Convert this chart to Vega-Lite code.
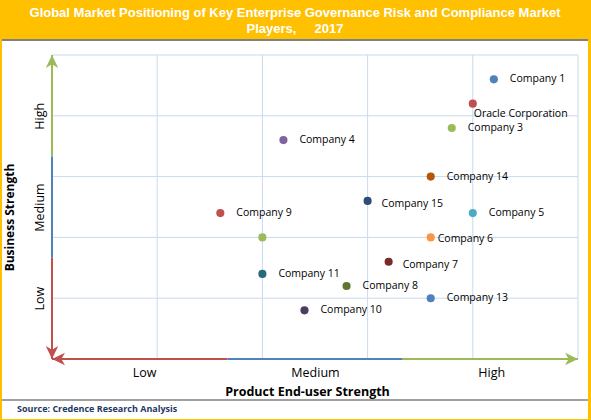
{
  "$schema": "https://vega.github.io/schema/vega-lite/v6.json",
  "width": 586,
  "height": 379,
  "autosize": {"type": "none"},
  "padding": {"left": 2, "top": 40, "right": 3, "bottom": 1},
  "background": "#FFC000",
  "title": {
    "text": ["Global Market Positioning of Key Enterprise Governance Risk and Compliance Market", "Players,\u00a0\u00a0\u00a0\u00a0 2017"],
    "color": "white",
    "font": "Liberation Sans",
    "fontSize": 13,
    "fontWeight": "bold",
    "anchor": "middle",
    "frame": "group",
    "offset": 3,
    "lineHeight": 16
  },
  "config": {
    "view": {"stroke": null, "fill": "white"},
    "font": "Open Sans"
  },
  "datasets": {
    "companies": [
      {"company": "Company 1", "product": 4.2, "business": 4.6},
      {"company": "Oracle Corporation", "product": 4.0, "business": 4.2},
      {"company": "Company 3", "product": 3.8, "business": 3.8},
      {"company": "Company 4", "product": 2.2, "business": 3.6},
      {"company": "Company 14", "product": 3.6, "business": 3.0},
      {"company": "Company 15", "product": 3.0, "business": 2.6},
      {"company": "Company 5", "product": 4.0, "business": 2.4},
      {"company": "Company 9", "product": 1.6, "business": 2.4},
      {"company": "Company 12", "product": 2.0, "business": 2.0},
      {"company": "Company 6", "product": 3.6, "business": 2.0},
      {"company": "Company 7", "product": 3.2, "business": 1.6},
      {"company": "Company 11", "product": 2.0, "business": 1.4},
      {"company": "Company 8", "product": 2.8, "business": 1.2},
      {"company": "Company 13", "product": 3.6, "business": 1.0},
      {"company": "Company 10", "product": 2.4, "business": 0.8}
    ],
    "grid": [{"v": 1}, {"v": 2}, {"v": 3}, {"v": 4}, {"v": 5}],
    "levels": [
      {"level": "Low", "start": 0, "end": 1.6667},
      {"level": "Medium", "start": 1.6667, "end": 3.3333},
      {"level": "High", "start": 3.3333, "end": 5}
    ],
    "source": [{"text": "Source: Credence Research Analysis"}]
  },
  "layer": [
    {
      "data": {"name": "grid"},
      "mark": {"type": "rule", "color": "#C9DAEE", "strokeWidth": 1},
      "encoding": {
        "x": {"field": "v", "type": "quantitative"},
        "y": {"datum": 0, "type": "quantitative"},
        "y2": {"datum": 5}
      }
    },
    {
      "data": {"name": "grid"},
      "mark": {"type": "rule", "color": "#C9DAEE", "strokeWidth": 1},
      "encoding": {
        "y": {"field": "v", "type": "quantitative"},
        "x": {"datum": 0, "type": "quantitative"},
        "x2": {"datum": 5}
      }
    },
    {
      "data": {"values": [{}]},
      "mark": {"type": "rule", "color": "#808080", "strokeWidth": 2},
      "encoding": {"y": {"datum": 5.2467, "type": "quantitative"}}
    },
    {
      "data": {"values": [{}]},
      "mark": {"type": "rule", "color": "#808080", "strokeWidth": 1.5},
      "encoding": {"y": {"datum": -0.6743, "type": "quantitative"}}
    },
    {
      "data": {"name": "levels"},
      "mark": {"type": "rule", "strokeWidth": 2},
      "encoding": {
        "x": {"field": "start", "type": "quantitative"},
        "x2": {"field": "end"},
        "y": {"datum": 0, "type": "quantitative"},
        "color": {"field": "level", "type": "nominal", "legend": null}
      }
    },
    {
      "data": {"name": "levels"},
      "mark": {"type": "rule", "strokeWidth": 2},
      "encoding": {
        "y": {"field": "start", "type": "quantitative"},
        "y2": {"field": "end"},
        "x": {"datum": 0, "type": "quantitative"},
        "color": {"field": "level", "type": "nominal", "legend": null}
      }
    },
    {
      "data": {"name": "levels"},
      "transform": [{"filter": "datum.level == 'High'"}],
      "mark": {"type": "point", "filled": true, "opacity": 1, "size": 676, "angle": 0, "shape": "M0,0 L0.48,1 L0,0.72 L-0.48,1 Z"},
      "encoding": {
        "y": {"field": "end", "type": "quantitative"},
        "x": {"datum": 0, "type": "quantitative"},
        "color": {"field": "level", "type": "nominal", "legend": null}
      }
    },
    {
      "data": {"name": "levels"},
      "transform": [{"filter": "datum.level == 'High'"}],
      "mark": {"type": "point", "filled": true, "opacity": 1, "size": 676, "angle": 90, "shape": "M0,0 L0.48,1 L0,0.72 L-0.48,1 Z"},
      "encoding": {
        "x": {"field": "end", "type": "quantitative"},
        "y": {"datum": 0, "type": "quantitative"},
        "color": {"field": "level", "type": "nominal", "legend": null}
      }
    },
    {
      "data": {"name": "levels"},
      "transform": [{"filter": "datum.level == 'Low'"}],
      "mark": {"type": "point", "filled": true, "opacity": 1, "size": 676, "angle": 180, "shape": "M0,0 L0.48,1 L0,0.72 L-0.48,1 Z"},
      "encoding": {
        "y": {"field": "start", "type": "quantitative"},
        "x": {"datum": 0, "type": "quantitative"},
        "color": {"field": "level", "type": "nominal", "legend": null}
      }
    },
    {
      "data": {"name": "levels"},
      "transform": [{"filter": "datum.level == 'Low'"}],
      "mark": {"type": "point", "filled": true, "opacity": 1, "size": 676, "angle": 270, "shape": "M0,0 L0.48,1 L0,0.72 L-0.48,1 Z"},
      "encoding": {
        "x": {"field": "start", "type": "quantitative"},
        "y": {"datum": 0, "type": "quantitative"},
        "color": {"field": "level", "type": "nominal", "legend": null}
      }
    },
    {
      "data": {"name": "companies"},
      "mark": {"type": "circle", "size": 66, "opacity": 1},
      "encoding": {
        "x": {
          "field": "product",
          "type": "quantitative",
          "scale": {"domain": [-0.4753, 5.0951], "nice": false, "zero": false},
          "axis": {
            "orient": "bottom",
            "offset": -60,
            "domain": false,
            "ticks": false,
            "grid": false,
            "values": [0.875, 2.5, 4.175],
            "labelExpr": "datum.value < 1.5 ? 'Low' : datum.value < 3.5 ? 'Medium' : 'High'",
            "labelFont": "Open Sans",
            "labelFontSize": 12.5,
            "labelColor": "#000000",
            "labelPadding": 7,
            "title": "Product End-user Strength",
            "titleFont": "Open Sans",
            "titleFontSize": 12.5,
            "titleFontWeight": "bold",
            "titleColor": "#000000",
            "titlePadding": 7,
            "titleX": 305
          }
        },
        "y": {
          "field": "business",
          "type": "quantitative",
          "scale": {"domain": [-0.9868, 5.2467], "nice": false, "zero": false},
          "axis": {
            "orient": "left",
            "offset": -50,
            "domain": false,
            "ticks": false,
            "grid": false,
            "values": [1, 2.5, 4],
            "labelExpr": "datum.value < 1.5 ? 'Low' : datum.value < 3.5 ? 'Medium' : 'High'",
            "labelAngle": -90,
            "labelFont": "Open Sans",
            "labelFontSize": 12.5,
            "labelColor": "#000000",
            "labelPadding": 6,
            "title": "Business Strength",
            "titleFont": "Open Sans",
            "titleFontSize": 12,
            "titleFontWeight": "bold",
            "titleColor": "#000000",
            "titleX": -43,
            "titleY": 177,
            "titleBaseline": "middle"
          }
        },
        "color": {
          "field": "company",
          "type": "nominal",
          "legend": null,
          "scale": {
            "domain": ["Company 1", "Oracle Corporation", "Company 3", "Company 4", "Company 5", "Company 6", "Company 7", "Company 8", "Company 9", "Company 10", "Company 11", "Company 12", "Company 13", "Company 14", "Company 15", "Low", "Medium", "High"],
            "range": ["#4F81BD", "#C0504D", "#9BBB59", "#8064A2", "#4BACC6", "#F79646", "#772C2A", "#5F7530", "#C0504D", "#4D3B62", "#276A7C", "#9BBB59", "#4F81BD", "#B65708", "#2C4D75", "#C0504D", "#4F81BD", "#9BBB59"]
          }
        }
      }
    },
    {
      "data": {"name": "companies"},
      "transform": [{"filter": "indexof(['Company 12', 'Oracle Corporation', 'Company 6', 'Company 7', 'Company 15'], datum.company) < 0"}],
      "mark": {"type": "text", "align": "left", "baseline": "middle", "dx": 16, "fontSize": 10.5, "color": "#000000"},
      "encoding": {
        "x": {"field": "product", "type": "quantitative"},
        "y": {"field": "business", "type": "quantitative"},
        "text": {"field": "company"}
      }
    },
    {
      "data": {"name": "companies"},
      "transform": [{"filter": "datum.company == 'Oracle Corporation'"}],
      "mark": {"type": "text", "align": "left", "baseline": "middle", "dx": 1, "dy": 10, "fontSize": 10.5, "color": "#000000"},
      "encoding": {
        "x": {"field": "product", "type": "quantitative"},
        "y": {"field": "business", "type": "quantitative"},
        "text": {"field": "company"}
      }
    },
    {
      "data": {"name": "companies"},
      "transform": [{"filter": "datum.company == 'Company 6'"}],
      "mark": {"type": "text", "align": "left", "baseline": "middle", "dx": 7, "dy": 2, "fontSize": 10.5, "color": "#000000"},
      "encoding": {
        "x": {"field": "product", "type": "quantitative"},
        "y": {"field": "business", "type": "quantitative"},
        "text": {"field": "company"}
      }
    },
    {
      "data": {"name": "companies"},
      "transform": [{"filter": "datum.company == 'Company 7' || datum.company == 'Company 15'"}],
      "mark": {"type": "text", "align": "left", "baseline": "middle", "dx": 14, "dy": 3, "fontSize": 10.5, "color": "#000000"},
      "encoding": {
        "x": {"field": "product", "type": "quantitative"},
        "y": {"field": "business", "type": "quantitative"},
        "text": {"field": "company"}
      }
    },
    {
      "data": {"name": "source"},
      "mark": {"type": "text", "align": "left", "baseline": "middle", "fontSize": 9, "fontWeight": "bold", "color": "#1F3864"},
      "encoding": {
        "x": {"datum": -0.3327, "type": "quantitative"},
        "y": {"datum": -0.8223, "type": "quantitative"},
        "text": {"field": "text"}
      }
    }
  ]
}
